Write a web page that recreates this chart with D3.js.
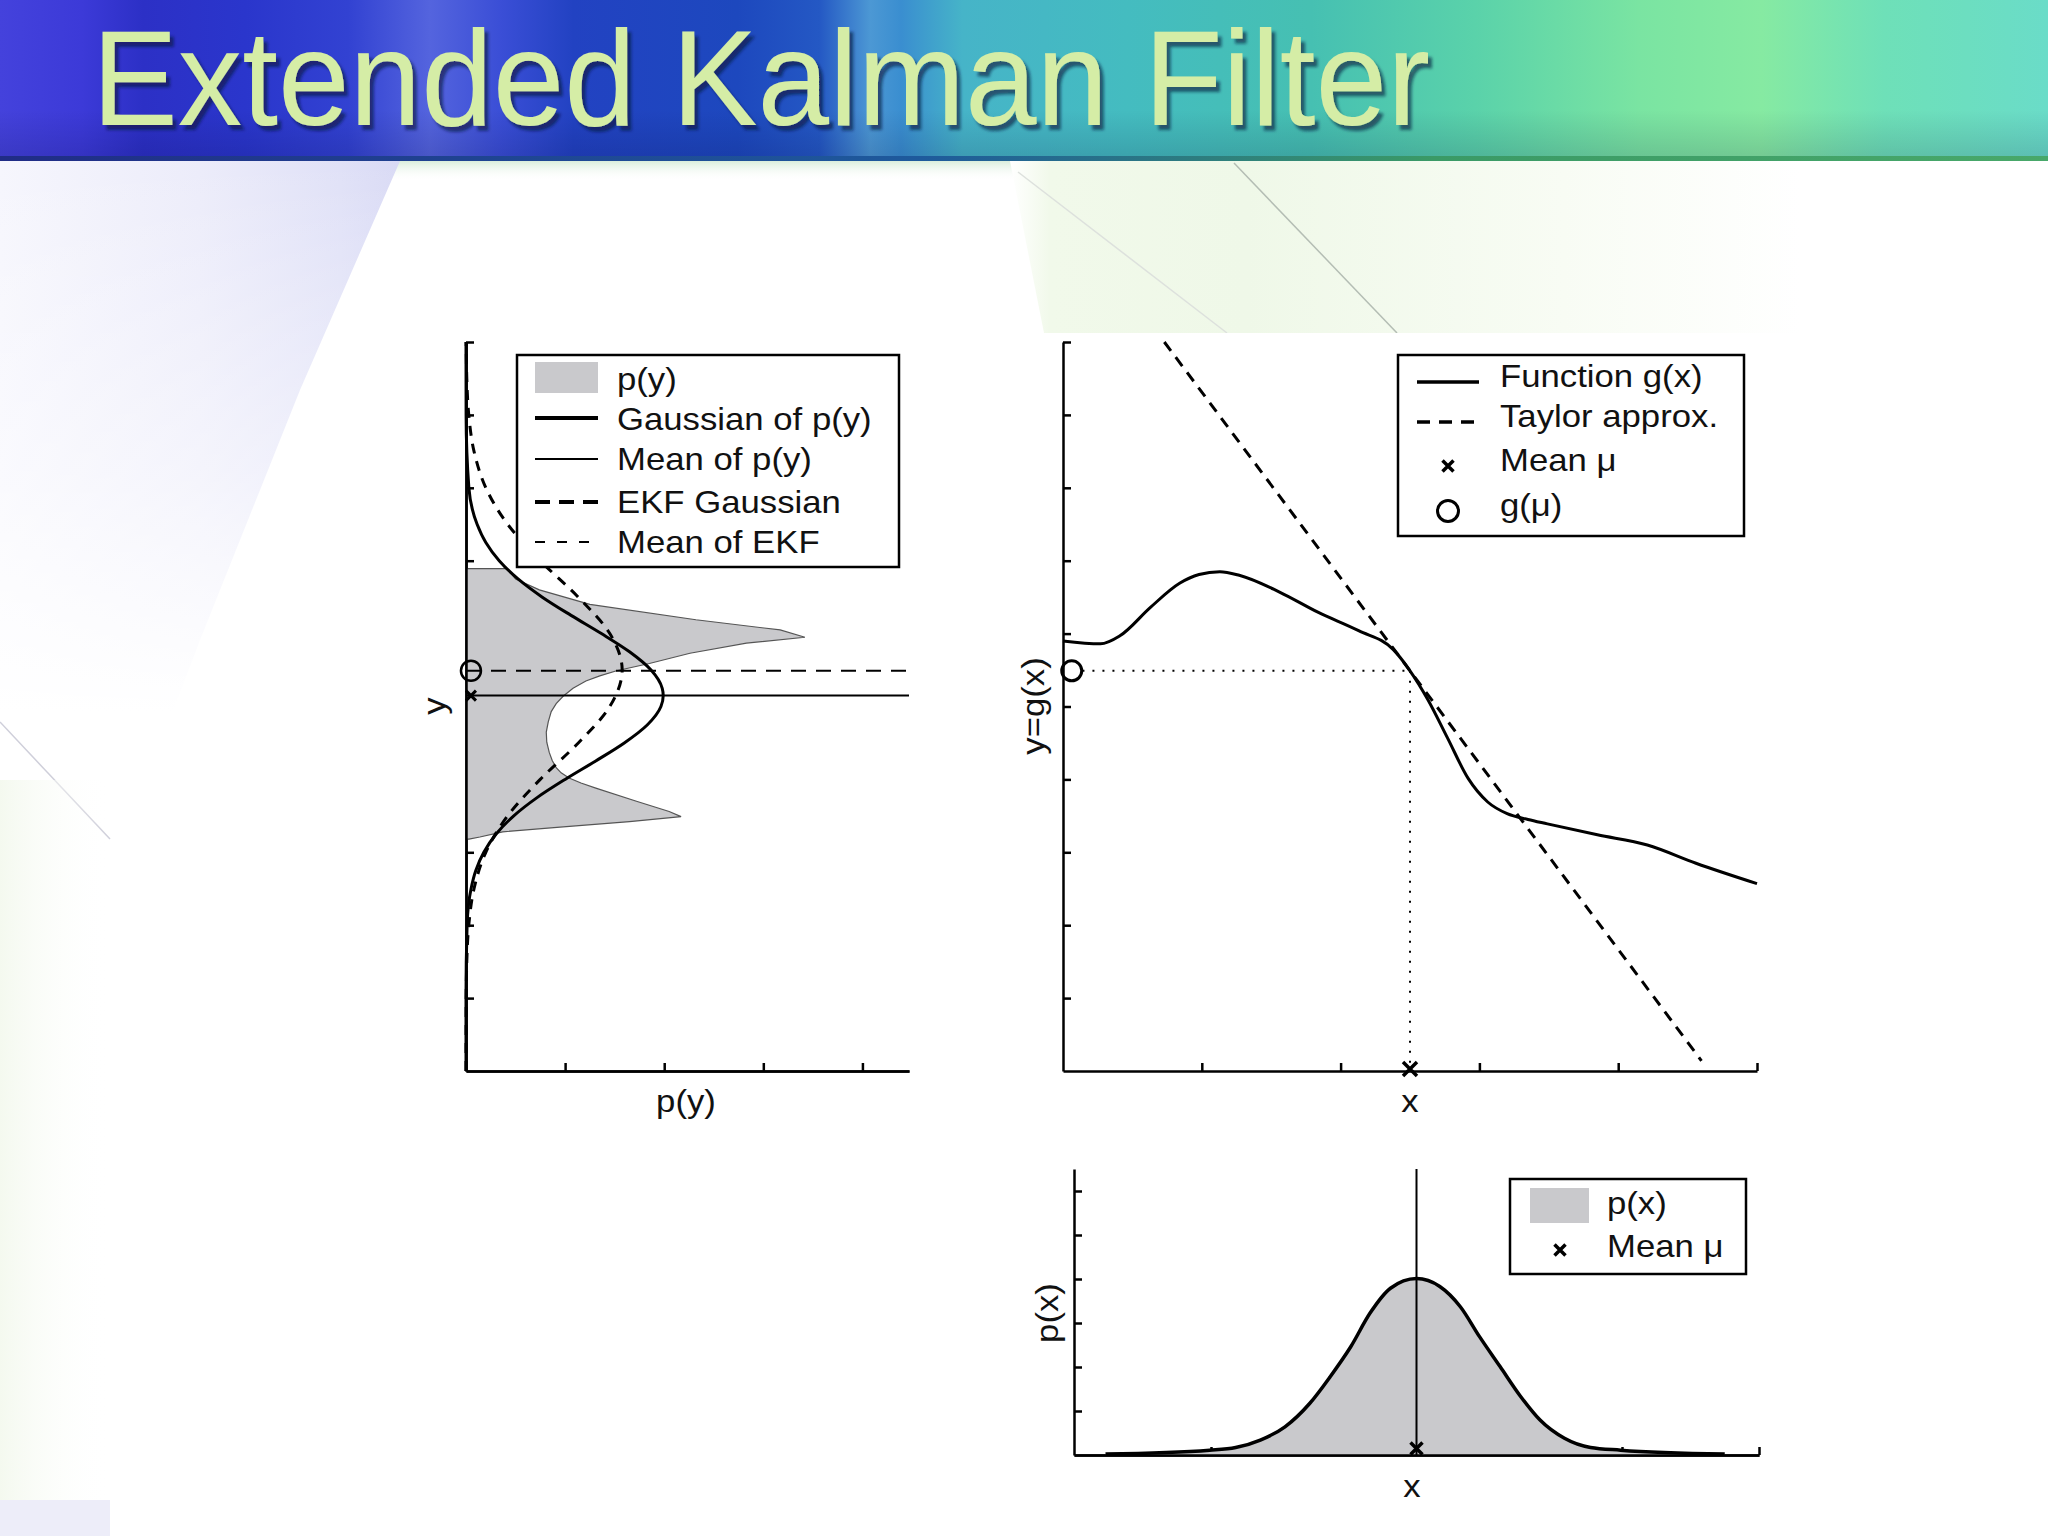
<!DOCTYPE html>
<html>
<head>
<meta charset="utf-8">
<script src="https://cdn.jsdelivr.net/npm/d3@7"></script>
<style>
  html, body { margin: 0; padding: 0; background: #fff; }
  svg { display: block; }
  text { font-family: "Liberation Sans", Arial, Helvetica, sans-serif; }
</style>
</head>
<body>
<div id="slide"></div>
<script>
// ---------- values ----------

const titleText = "Extended Kalman Filter";

// middle panel: y = g(x)  [x, y]
const gPoints = [[0,5.90],[0.27,5.86],[0.41,5.97],[0.63,6.36],[0.84,6.69],[0.98,6.81],[1.13,6.85],[1.27,6.80],
  [1.56,6.57],[1.84,6.29],[2.13,6.04],[2.38,5.78],[2.5,5.49],[2.63,5.09],[2.77,4.57],[2.92,4.01],[3.06,3.69],
  [3.20,3.53],[3.35,3.45],[3.49,3.39],[3.85,3.24],[4.21,3.10],[4.56,2.85],[5.0,2.57]];
// first order Taylor approximation around mu (end points)
const taylorLine = [[0.73,10.0],[4.60,0.14]];
const mu = 2.5;
const gMu = 5.49;

// left panel: p(y) outline  [y, density]
const pyOutline = [[6.89,0],[6.89,0.42],[6.75,0.50],[6.60,0.74],[6.40,1.25],[6.19,2.32],[6.05,3.17],[5.95,3.42],
  [5.87,2.83],[5.73,2.26],[5.59,1.85],[5.49,1.52],[5.42,1.35],[5.35,1.21],[5.25,1.08],[5.14,0.98],[5.04,0.91],
  [4.93,0.86],[4.79,0.83],[4.65,0.81],[4.51,0.815],[4.37,0.84],[4.26,0.87],[4.16,0.91],[4.09,0.96],[4.02,1.04],
  [3.95,1.16],[3.88,1.31],[3.70,1.72],[3.56,2.05],[3.49,2.17],[3.42,1.65],[3.35,0.98],[3.28,0.37],
  [3.21,0.14],[3.18,0.03],[3.18,0]];
// Gaussian fitted to p(y)  [y, density]
const gaussPy = [[0,0],[1,0],[2,0.011],[2.5,0.051],[2.75,0.099],[3,0.18],[3.25,0.304],[3.5,0.482],[3.75,0.717],
  [4,1.0],[4.25,1.305],[4.5,1.597],[4.75,1.831],[5,1.967],[5.15,1.99],[5.25,1.98],[5.5,1.867],[5.75,1.65],
  [6,1.366],[6.25,1.06],[6.5,0.77],[6.75,0.525],[7,0.335],[7.25,0.2],[7.5,0.112],[8,0.029],[9,0.001],[10,0]];
// EKF Gaussian  [y, density]
const ekfPy = [[0,0],[1,0.002],[1.5,0.008],[2,0.028],[2.5,0.081],[3,0.2],[3.5,0.42],[4,0.749],[4.5,1.133],
  [5,1.451],[5.5,1.576],[6,1.451],[6.5,1.133],[7,0.749],[7.5,0.42],[8,0.2],[8.5,0.081],[9,0.028],[9.5,0.008],[10,0.002]];
const meanPy = 5.15;
const meanEkf = 5.49;

// bottom panel: p(x)  [x, density]
const pxCurve = [[0.23,0.02],[0.99,0.11],[1.18,0.17],[1.36,0.34],[1.54,0.64],[1.72,1.17],[1.87,1.78],[2.02,2.46],
  [2.16,3.22],[2.31,3.79],[2.5,4.01],[2.67,3.83],[2.82,3.37],[2.96,2.69],[3.11,2.01],[3.26,1.33],[3.40,0.80],
  [3.58,0.38],[3.77,0.17],[3.99,0.11],[4.75,0.02]];

// ticks
const leftXTicks = [1,2,3,4];
const midXTicks = [1,2,3,4,5];
const yTicks = [1,2,3,4,5,6,7,8,9,10];
const botXTicks = [1,2,3,4,5];
const botYTicks = [1,2,3,4,5,6];

// legends
const leftLegend = ["p(y)","Gaussian of p(y)","Mean of p(y)","EKF Gaussian","Mean of EKF"];
const midLegend = ["Function g(x)","Taylor approx.","Mean \u03bc","g(\u03bc)"];
const botLegend = ["p(x)","Mean \u03bc"];

// ---------- drawing ----------
const svg = d3.select("#slide").append("svg").attr("width",2048).attr("height",1536);
const defs = svg.append("defs");
const GRAY = "#c9c9cc";

function linGrad(id, stops, x1, y1, x2, y2, user) {
  const g = defs.append("linearGradient").attr("id",id)
    .attr("x1",x1).attr("y1",y1).attr("x2",x2).attr("y2",y2);
  if (user) g.attr("gradientUnits","userSpaceOnUse");
  stops.forEach(s => g.append("stop").attr("offset",s[0]).attr("stop-color",s[1])
    .attr("stop-opacity", s[2] == null ? 1 : s[2]));
}

//slide background
svg.append("rect").attr("width",2048).attr("height",1536).attr("fill","#fff");

linGrad("hdr", [[0,"#4442dc"],[0.04,"#3c3ad8"],[0.07,"#2c30c6"],[0.12,"#2a36cc"],[0.17,"#3242d2"],
  [0.21,"#5464de"],[0.245,"#3a4ed6"],[0.28,"#2242c2"],[0.36,"#1d48be"],[0.40,"#2458c4"],[0.425,"#4c98d4"],
  [0.44,"#3a8ed0"],[0.47,"#46b4c8"],[0.55,"#44bcc0"],[0.64,"#46c0b2"],[0.72,"#5ad2aa"],[0.80,"#7ae4a2"],
  [0.86,"#86eaa2"],[0.92,"#6ee0b8"],[1,"#6adcc8"]], 0,0,1,0);
linGrad("hdrShade", [[0,"#000030",0],[1,"#000030",0.14]], 0,0,0,1);
linGrad("hdrLine", [[0,"#202c86"],[0.45,"#1e5a9c"],[0.7,"#3a9a66"],[1,"#48a86a"]], 0,0,1,0);
linGrad("glow", [[0,"#d6ecd8",0.9],[1,"#ffffff",0]], 0,0,0,1);
linGrad("lav", [[0,"#f6f6fd"],[0.5,"#ececfa"],[0.85,"#e0e1f7"],[1,"#d9daf5"]], 0,0,1,0);
linGrad("lavFade", [[0,"#fff",0],[0.45,"#fff",0.45],[0.8,"#fff",1],[1,"#fff",1]], 0,0,0,1);
linGrad("green", [[0,"#ffffff"],[0.05,"#f1f9ea"],[0.3,"#eff8e8"],[0.7,"#f8fcf4"],[1,"#ffffff"]], 1010,0,1800,0, true);
linGrad("leftTint", [[0,"#f4f9ef"],[1,"#ffffff",0]], 0,0,1,0);

svg.append("rect").attr("x",0).attr("y",0).attr("width",2048).attr("height",158).attr("fill","url(#hdr)");
svg.append("rect").attr("x",0).attr("y",110).attr("width",2048).attr("height",48).attr("fill","url(#hdrShade)");
svg.append("rect").attr("x",0).attr("y",156).attr("width",2048).attr("height",5).attr("fill","url(#hdrLine)");
svg.append("rect").attr("x",0).attr("y",161).attr("width",2048).attr("height",20).attr("fill","url(#glow)");

// faint decorations
svg.append("polygon").attr("points","0,161 400,161 300,390 200,640 120,850 0,850").attr("fill","url(#lav)");
svg.append("rect").attr("x",0).attr("y",161).attr("width",401).attr("height",690).attr("fill","url(#lavFade)");
svg.append("polygon").attr("points","1010,161 2048,161 2048,333 1044,333").attr("fill","url(#green)");
svg.append("line").attr("x1",1018).attr("y1",172).attr("x2",1227).attr("y2",333).attr("stroke","#dde1dd").attr("stroke-width",1.5);
svg.append("line").attr("x1",1234).attr("y1",163).attr("x2",1397).attr("y2",333).attr("stroke","#b4bdb4").attr("stroke-width",1.5);
svg.append("line").attr("x1",0).attr("y1",722).attr("x2",110).attr("y2",839).attr("stroke","#cfcfda").attr("stroke-width",1.5);
svg.append("rect").attr("x",0).attr("y",780).attr("width",110).attr("height",720).attr("fill","url(#leftTint)");
svg.append("rect").attr("x",0).attr("y",1500).attr("width",110).attr("height",36).attr("fill","#ededf9");

// figure area
svg.append("rect").attr("x",425).attr("y",333).attr("width",1350).attr("height",1180).attr("fill","#fff");

// title with drop shadow
const shadow = defs.append("filter").attr("id","shadow")
  .attr("x","-5%").attr("y","-20%").attr("width","110%").attr("height","150%");
shadow.append("feGaussianBlur").attr("in","SourceAlpha").attr("stdDeviation",1.6).attr("result","b");
shadow.append("feOffset").attr("in","b").attr("dx",4).attr("dy",5).attr("result","o");
shadow.append("feFlood").attr("flood-color","#0c1838").attr("flood-opacity",0.6);
shadow.append("feComposite").attr("in2","o").attr("operator","in").attr("result","s");
const merge = shadow.append("feMerge");
merge.append("feMergeNode").attr("in","s");
merge.append("feMergeNode").attr("in","SourceGraphic");

svg.append("text").attr("x",92).attr("y",125)
  .attr("font-size",136).attr("textLength",1338).attr("lengthAdjust","spacingAndGlyphs")
  .attr("fill","#d5eda6").attr("filter","url(#shadow)").text(titleText);

function addText(x, y, str, anchor, rot) {
  return svg.append("text")
    .attr("transform", `translate(${x},${y})` + (rot ? " rotate(-90)" : "") + " scale(1.12,1)")
    .attr("text-anchor", anchor || "start")
    .attr("font-size", 31)
    .attr("fill", "#111")
    .text(str);
}
function xMark(x, y, s, w) {
  svg.append("path").attr("d",`M${x-s},${y-s}L${x+s},${y+s}M${x-s},${y+s}L${x+s},${y-s}`)
    .attr("stroke","#000").attr("stroke-width",w).attr("fill","none");
}
function styleAxis(g) {
  g.selectAll("path, line").attr("stroke","#000").attr("stroke-width",2.5);
  g.selectAll("text").remove();
}

// shared y scale of left & middle panels
const yG = d3.scaleLinear().domain([0,10]).range([1071,342]);

// ===== left panel : p(y) =====
const xL = d3.scaleLinear().domain([0,4.47]).range([466,909]);

svg.append("g").attr("transform","translate(0,1071)")
  .call(d3.axisBottom(xL).tickValues(leftXTicks).tickSize(-8).tickSizeOuter(0)).call(styleAxis);
svg.append("g").attr("transform","translate(466,0)")
  .call(d3.axisLeft(yG).tickValues(yTicks).tickSize(-8).tickSizeOuter(0)).call(styleAxis);

svg.append("path").datum(pyOutline)
  .attr("d", d3.area().y(d => yG(d[0])).x0(xL(0)).x1(d => xL(d[1])))
  .attr("fill", GRAY);
svg.append("path").datum(pyOutline)
  .attr("d", d3.line().y(d => yG(d[0])).x(d => xL(d[1])))
  .attr("fill","none").attr("stroke","#555").attr("stroke-width",1.2);

const lineY = d3.line().curve(d3.curveMonotoneY).x(d => xL(d[1])).y(d => yG(d[0]));
svg.append("path").datum(gaussPy).attr("d", lineY)
  .attr("fill","none").attr("stroke","#000").attr("stroke-width",3);
svg.append("path").datum(ekfPy).attr("d", lineY)
  .attr("fill","none").attr("stroke","#000").attr("stroke-width",3).attr("stroke-dasharray","10,8");

svg.append("line").attr("x1",xL(0)).attr("x2",xL(4.47)).attr("y1",yG(meanPy)).attr("y2",yG(meanPy))
  .attr("stroke","#000").attr("stroke-width",2);
svg.append("line").attr("x1",xL(0)).attr("x2",xL(4.47)).attr("y1",yG(meanEkf)).attr("y2",yG(meanEkf))
  .attr("stroke","#000").attr("stroke-width",2).attr("stroke-dasharray","15,10");

// redraw the axis lines over the fill
svg.append("g").attr("transform","translate(466,0)")
  .call(d3.axisLeft(yG).tickValues([]).tickSizeOuter(0)).call(styleAxis);
svg.append("g").attr("transform","translate(0,1071)")
  .call(d3.axisBottom(xL).tickValues([]).tickSizeOuter(0)).call(styleAxis);

svg.append("circle").attr("cx",xL(0.05)).attr("cy",yG(meanEkf)).attr("r",10)
  .attr("fill","none").attr("stroke","#000").attr("stroke-width",2.5);
xMark(xL(0.05), yG(meanPy), 5, 3);

addText(686, 1112, "p(y)", "middle");
addText(445, 706, "y", "middle", true);

// left legend
svg.append("rect").attr("x",517).attr("y",355).attr("width",382).attr("height",212)
  .attr("fill","#fff").attr("stroke","#000").attr("stroke-width",2.5);
svg.append("rect").attr("x",535).attr("y",362).attr("width",63).attr("height",31).attr("fill",GRAY);
const leftSamples = [[418,4,null],[459,2,null],[502,4,"15,9"],[542,2,"10,12"]];
leftSamples.forEach(s => {
  const l = svg.append("line").attr("x1",535).attr("x2",598).attr("y1",s[0]).attr("y2",s[0])
    .attr("stroke","#000").attr("stroke-width",s[1]);
  if (s[2]) l.attr("stroke-dasharray",s[2]);
});
const leftBase = [390,430,470,513,553];
leftLegend.forEach((t,i) => addText(617, leftBase[i], t));

// ===== middle panel : y = g(x) =====
const xM = d3.scaleLinear().domain([0,5]).range([1063,1757]);

svg.append("g").attr("transform","translate(0,1071)")
  .call(d3.axisBottom(xM).tickValues(midXTicks).tickSize(-8).tickSizeOuter(0)).call(styleAxis);
svg.append("g").attr("transform","translate(1063,0)")
  .call(d3.axisLeft(yG).tickValues(yTicks).tickSize(-8).tickSizeOuter(0)).call(styleAxis);

svg.append("path").datum(gPoints)
  .attr("d", d3.line().curve(d3.curveMonotoneX).x(d => xM(d[0])).y(d => yG(d[1])))
  .attr("fill","none").attr("stroke","#000").attr("stroke-width",3);
svg.append("path").datum(taylorLine)
  .attr("d", d3.line().x(d => xM(d[0])).y(d => yG(d[1])))
  .attr("fill","none").attr("stroke","#000").attr("stroke-width",3).attr("stroke-dasharray","11,8");

// dotted projection lines
svg.append("line").attr("x1",xM(0.14)).attr("x2",xM(mu)).attr("y1",yG(gMu)).attr("y2",yG(gMu))
  .attr("stroke","#000").attr("stroke-width",2).attr("stroke-dasharray","2,8");
svg.append("line").attr("x1",xM(mu)).attr("x2",xM(mu)).attr("y1",yG(gMu)).attr("y2",yG(0))
  .attr("stroke","#000").attr("stroke-width",2).attr("stroke-dasharray","2,8");

svg.append("circle").attr("cx",xM(0.063)).attr("cy",yG(gMu)).attr("r",10)
  .attr("fill","none").attr("stroke","#000").attr("stroke-width",3);
xMark(xM(mu), yG(0)-2, 7, 3.5);

addText(1410, 1112, "x", "middle");
addText(1044, 706, "y=g(x)", "middle", true);

// middle legend
svg.append("rect").attr("x",1398).attr("y",355).attr("width",346).attr("height",181)
  .attr("fill","#fff").attr("stroke","#000").attr("stroke-width",2.5);
svg.append("line").attr("x1",1417).attr("x2",1479).attr("y1",382).attr("y2",382)
  .attr("stroke","#000").attr("stroke-width",3.5);
svg.append("line").attr("x1",1417).attr("x2",1479).attr("y1",422).attr("y2",422)
  .attr("stroke","#000").attr("stroke-width",3.5).attr("stroke-dasharray","13,9");
xMark(1448, 466, 5.5, 3.5);
svg.append("circle").attr("cx",1448).attr("cy",511).attr("r",10.5)
  .attr("fill","none").attr("stroke","#000").attr("stroke-width",3);
const midBase = [387,427,471,516];
midLegend.forEach((t,i) => addText(1500, midBase[i], t));

// ===== bottom panel : p(x) =====
const xB = d3.scaleLinear().domain([0,5]).range([1074,1759]);
const yB = d3.scaleLinear().domain([0,6.5]).range([1455,1169]);

svg.append("g").attr("transform","translate(0,1455)")
  .call(d3.axisBottom(xB).tickValues(botXTicks).tickSize(-8).tickSizeOuter(0)).call(styleAxis);
svg.append("g").attr("transform","translate(1074,0)")
  .call(d3.axisLeft(yB).tickValues(botYTicks).tickSize(-8).tickSizeOuter(0)).call(styleAxis);

svg.append("path").datum(pxCurve)
  .attr("d", d3.area().curve(d3.curveMonotoneX).x(d => xB(d[0])).y0(yB(0)).y1(d => yB(d[1])))
  .attr("fill", GRAY);
svg.append("path").datum(pxCurve)
  .attr("d", d3.line().curve(d3.curveMonotoneX).x(d => xB(d[0])).y(d => yB(d[1])))
  .attr("fill","none").attr("stroke","#000").attr("stroke-width",3.5);

svg.append("g").attr("transform","translate(0,1455)")
  .call(d3.axisBottom(xB).tickValues([]).tickSizeOuter(0)).call(styleAxis);

svg.append("line").attr("x1",xB(mu)).attr("x2",xB(mu)).attr("y1",yB(0)).attr("y2",yB(6.5))
  .attr("stroke","#000").attr("stroke-width",2);
xMark(xB(mu), yB(0.15), 6, 3.5);

addText(1412, 1497, "x", "middle");
addText(1058, 1313, "p(x)", "middle", true);

// bottom legend
svg.append("rect").attr("x",1510).attr("y",1179).attr("width",236).attr("height",95)
  .attr("fill","#fff").attr("stroke","#000").attr("stroke-width",2.5);
svg.append("rect").attr("x",1530).attr("y",1188).attr("width",59).attr("height",35).attr("fill",GRAY);
xMark(1560, 1250, 5.5, 3.5);
const botBase = [1214,1257];
botLegend.forEach((t,i) => addText(1607, botBase[i], t));
</script>
</body>
</html>
